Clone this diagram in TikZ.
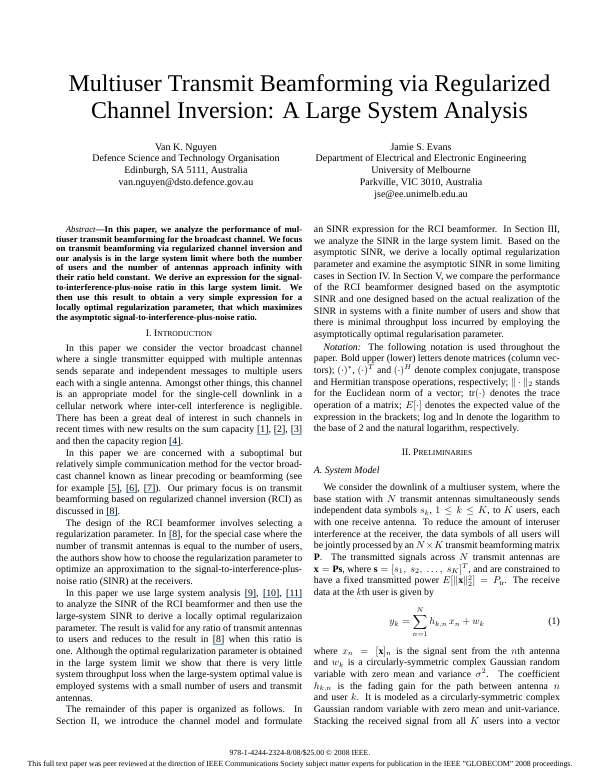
\documentclass[tikz,border=0pt]{standalone}
\usepackage{fontspec}
\setmainfont{Liberation Serif}
\usetikzlibrary{positioning}

\definecolor{linkblue}{RGB}{90,170,225}
\newlength{\colw}
\setlength{\colw}{246pt}
\newcommand{\xl}{56}
\newcommand{\xr}{313.7}
\newcommand{\parskp}{\hskip 9.6pt}
\newcommand{\bibref}[1]{\setbox0\hbox{[#1]}\rlap{\color{linkblue}\rule[-1.9pt]{\wd0}{0.8pt}}\box0\relax}
\newcommand{\smc}[1]{{\fontsize{7.6}{9}\selectfont #1}}
\newcommand{\bodyline}[4]{\node[bodytext] (#1) at (#2,#3) {\hbox to \colw{#4}};}

\tikzset{
	bodytext/.style={anchor=base west,inner sep=0pt,font=\fontsize{9.8}{11}\selectfont},
	abstext/.style={anchor=base west,inner sep=0pt,font=\fontsize{8.8}{10}\selectfont\bfseries},
	titletext/.style={anchor=base,inner sep=0pt,font=\fontsize{24}{26}\selectfont},
	authortext/.style={anchor=base,inner sep=0pt,font=\fontsize{10}{11}\selectfont},
	headtext/.style={anchor=base,inner sep=0pt,font=\fontsize{9.8}{11}\selectfont},
	foottext/.style={anchor=base,inner sep=0pt,font=\fontsize{7.8}{9}\selectfont}
}

\begin{document}
\begin{tikzpicture}[x=1pt,y=-1pt]
	\useasboundingbox (0,0) rectangle (600,776);

	% title
	\node[titletext] (title1) at (309.5,91) {Multiuser Transmit Beamforming via Regularized};
	\node[titletext] (title2) at (309.5,118) {Channel Inversion: A Large System Analysis};

	% authors
	\node[authortext] (va1) at (186,150) {Van K. Nguyen};
	\node[authortext] (va2) at (186,161.5) {Defence Science and Technology Organisation};
	\node[authortext] (va3) at (186,173.5) {Edinburgh, SA 5111, Australia};
	\node[authortext] (va4) at (186,185.5) {van.nguyen@dsto.defence.gov.au};
	\node[authortext] (je1) at (421,150) {Jamie S. Evans};
	\node[authortext] (je2) at (421,161.5) {Department of Electrical and Electronic Engineering};
	\node[authortext] (je3) at (421,173.5) {University of Melbourne};
	\node[authortext] (je4) at (421,185.5) {Parkville, VIC 3010, Australia};
	\node[authortext] (je5) at (421,197.5) {jse@ee.unimelb.edu.au};

	% abstract
	\node[abstext] (ab1) at (\xl,232) {\hbox to \colw{\parskp\textit{\mdseries Abstract}---In this paper, we analyze the performance of mul-}};
	\node[abstext] (ab2) at (\xl,242) {\hbox to \colw{tiuser transmit beamforming for the broadcast channel. We focus}};
	\node[abstext] (ab3) at (\xl,251.5) {\hbox to \colw{on transmit beamforming via regularized channel inversion and}};
	\node[abstext] (ab4) at (\xl,261) {\hbox to \colw{our analysis is in the large system limit where both the number}};
	\node[abstext] (ab5) at (\xl,270.5) {\hbox to \colw{of users and the number of antennas approach infinity with}};
	\node[abstext] (ab6) at (\xl,280.5) {\hbox to \colw{their ratio held constant. We derive an expression for the signal-}};
	\node[abstext] (ab7) at (\xl,290.5) {\hbox to \colw{to-interference-plus-noise ratio in this large system limit. We}};
	\node[abstext] (ab8) at (\xl,300) {\hbox to \colw{then use this result to obtain a very simple expression for a}};
	\node[abstext] (ab9) at (\xl,310) {\hbox to \colw{locally optimal regularization parameter, that which maximizes}};
	\node[abstext] (ab10) at (\xl,320) {\hbox to \colw{the asymptotic signal-to-interference-plus-noise ratio.\hfil}};

	% left column
	\node[headtext] (sec1) at (179,336) {I. I\smc{NTRODUCTION}};
	\bodyline{l1}{\xl}{351}{\parskp In this paper we consider the vector broadcast channel}
	\bodyline{l2}{\xl}{362.6}{where a single transmitter equipped with multiple antennas}
	\bodyline{l3}{\xl}{374.3}{sends separate and independent messages to multiple users}
	\bodyline{l4}{\xl}{386}{each with a single antenna. Amongst other things, this channel}
	\bodyline{l5}{\xl}{397.6}{is an appropriate model for the single-cell downlink in a}
	\bodyline{l6}{\xl}{409.3}{cellular network where inter-cell interference is negligible.}
	\bodyline{l7}{\xl}{421}{There has been a great deal of interest in such channels in}
	\bodyline{l8}{\xl}{432.6}{recent times with new results on the sum capacity \bibref{1}, \bibref{2}, \bibref{3}}
	\bodyline{l9}{\xl}{444.3}{and then the capacity region \bibref{4}.\hfil}
	\bodyline{l10}{\xl}{456}{\parskp In this paper we are concerned with a suboptimal but}
	\bodyline{l11}{\xl}{467.6}{relatively simple communication method for the vector broad-}
	\bodyline{l12}{\xl}{479.3}{cast channel known as linear precoding or beamforming (see}
	\bodyline{l13}{\xl}{491}{for example \bibref{5}, \bibref{6}, \bibref{7}). Our primary focus is on transmit}
	\bodyline{l14}{\xl}{502.6}{beamforming based on regularized channel inversion (RCI) as}
	\bodyline{l15}{\xl}{514.3}{discussed in \bibref{8}.\hfil}
	\bodyline{l16}{\xl}{526}{\parskp The design of the RCI beamformer involves selecting a}
	\bodyline{l17}{\xl}{537.6}{regularization parameter. In \bibref{8}, for the special case where the}
	\bodyline{l18}{\xl}{549.3}{number of transmit antennas is equal to the number of users,}
	\bodyline{l19}{\xl}{561}{the authors show how to choose the regularization parameter to}
	\bodyline{l20}{\xl}{572.6}{optimize an approximation to the signal-to-interference-plus-}
	\bodyline{l21}{\xl}{584.3}{noise ratio (SINR) at the receivers.\hfil}
	\bodyline{l22}{\xl}{596}{\parskp In this paper we use large system analysis \bibref{9}, \bibref{10}, \bibref{11}}
	\bodyline{l23}{\xl}{607.6}{to analyze the SINR of the RCI beamformer and then use the}
	\bodyline{l24}{\xl}{619.3}{large-system SINR to derive a locally optimal regularizaion}
	\bodyline{l25}{\xl}{631}{parameter. The result is valid for any ratio of transmit antennas}
	\bodyline{l26}{\xl}{642.6}{to users and reduces to the result in \bibref{8} when this ratio is}
	\bodyline{l27}{\xl}{654.3}{one. Although the optimal regularization parameter is obtained}
	\bodyline{l28}{\xl}{666}{in the large system limit we show that there is very little}
	\bodyline{l29}{\xl}{677.6}{system throughput loss when the large-system optimal value is}
	\bodyline{l30}{\xl}{689.3}{employed systems with a small number of users and transmit}
	\bodyline{l31}{\xl}{701}{antennas.\hfil}
	\bodyline{l32}{\xl}{712.6}{\parskp The remainder of this paper is organized as follows. In}
	\bodyline{l33}{\xl}{724.3}{Section II, we introduce the channel model and formulate}

	% right column
	\bodyline{r1}{\xr}{232.5}{an SINR expression for the RCI beamformer. In Section III,}
	\bodyline{r2}{\xr}{244.2}{we analyze the SINR in the large system limit. Based on the}
	\bodyline{r3}{\xr}{255.9}{asymptotic SINR, we derive a locally optimal regularization}
	\bodyline{r4}{\xr}{267.6}{parameter and examine the asymptotic SINR in some limiting}
	\bodyline{r5}{\xr}{279.2}{cases in Section IV. In Section V, we compare the performance}
	\bodyline{r6}{\xr}{290.9}{of the RCI beamformer designed based on the asymptotic}
	\bodyline{r7}{\xr}{302.6}{SINR and one designed based on the actual realization of the}
	\bodyline{r8}{\xr}{314.2}{SINR in systems with a finite number of users and show that}
	\bodyline{r9}{\xr}{325.9}{there is minimal throughput loss incurred by employing the}
	\bodyline{r10}{\xr}{337.6}{asymptotically optimal regularisation parameter.\hfil}
	\bodyline{r11}{\xr}{350}{\parskp\textit{Notation:} The following notation is used throughout the}
	\bodyline{r12}{\xr}{361.7}{paper. Bold upper (lower) letters denote matrices (column vec-}
	\bodyline{r13}{\xr}{373.4}{tors); $(\cdot)^{*}$, $(\cdot)^{T}$ and $(\cdot)^{H}$ denote complex conjugate, transpose}
	\bodyline{r14}{\xr}{385}{and Hermitian transpose operations, respectively; $\|\cdot\|_{2}$ stands}
	\bodyline{r15}{\xr}{396.7}{for the Euclidean norm of a vector; $\mathrm{tr}(\cdot)$ denotes the trace}
	\bodyline{r16}{\xr}{408.4}{operation of a matrix; $E[\cdot]$ denotes the expected value of the}
	\bodyline{r17}{\xr}{420}{expression in the brackets; log and ln denote the logarithm to}
	\bodyline{r18}{\xr}{431.7}{the base of 2 and the natural logarithm, respectively.\hfil}
	\node[headtext] (sec2) at (437,455) {II. P\smc{RELIMINARIES}};
	\bodyline{sub1}{\xr}{473}{\textit{A. System Model}\hfil}
	\bodyline{r19}{\xr}{490.5}{\parskp We consider the downlink of a multiuser system, where the}
	\bodyline{r20}{\xr}{502.2}{base station with $N$ transmit antennas simultaneously sends}
	\bodyline{r21}{\xr}{513.9}{independent data symbols $s_k$, $1\leq k\leq K$, to $K$ users, each}
	\bodyline{r22}{\xr}{525.5}{with one receive antenna. To reduce the amount of interuser}
	\bodyline{r23}{\xr}{537.2}{interference at the receiver, the data symbols of all users will}
	\bodyline{r24}{\xr}{548.9}{be jointly processed by an $N\times K$ transmit beamforming matrix}
	\bodyline{r25}{\xr}{560.5}{$\mathbf{P}$. The transmitted signals across $N$ transmit antennas are}
	\bodyline{r26}{\xr}{572.2}{$\mathbf{x}=\mathbf{P}\mathbf{s}$, where $\mathbf{s}=[s_1,\ s_2,\ \ldots,\ s_K]^T$, and are constrained to}
	\bodyline{r27}{\xr}{583.9}{have a fixed transmitted power $E[\|\mathbf{x}\|_2^2]=P_{\mathrm{tr}}$. The receive}
	\bodyline{r28}{\xr}{595.5}{data at the $k$th user is given by\hfil}
	\node[bodytext,anchor=base] (eq1) at (437,624.5) {$\displaystyle y_k=\sum_{n=1}^{N}h_{k,n}\,x_n+w_k$};
	\node[bodytext,anchor=base east] (eqnum) at (560,624.5) {(1)};
	\bodyline{r29}{\xr}{654}{where $x_n=[\mathbf{x}]_n$ is the signal sent from the $n$th antenna}
	\bodyline{r30}{\xr}{665.7}{and $w_k$ is a circularly-symmetric complex Gaussian random}
	\bodyline{r31}{\xr}{677.4}{variable with zero mean and variance $\sigma^2$. The coefficient}
	\bodyline{r32}{\xr}{689}{$h_{k,n}$ is the fading gain for the path between antenna $n$}
	\bodyline{r33}{\xr}{700.7}{and user $k$. It is modeled as a circularly-symmetric complex}
	\bodyline{r34}{\xr}{712.4}{Gaussian random variable with zero mean and unit-variance.}
	\bodyline{r35}{\xr}{724}{Stacking the received signal from all $K$ users into a vector}

	% footer
	\node[foottext] (foot1) at (300,755.5) {978-1-4244-2324-8/08/\$25.00 ©~2008 IEEE.};
	\node[foottext] (foot2) at (300,766.5) {This full text paper was peer reviewed at the direction of IEEE Communications Society subject matter experts for publication in the IEEE "GLOBECOM" 2008 proceedings.};
\end{tikzpicture}
\end{document}
